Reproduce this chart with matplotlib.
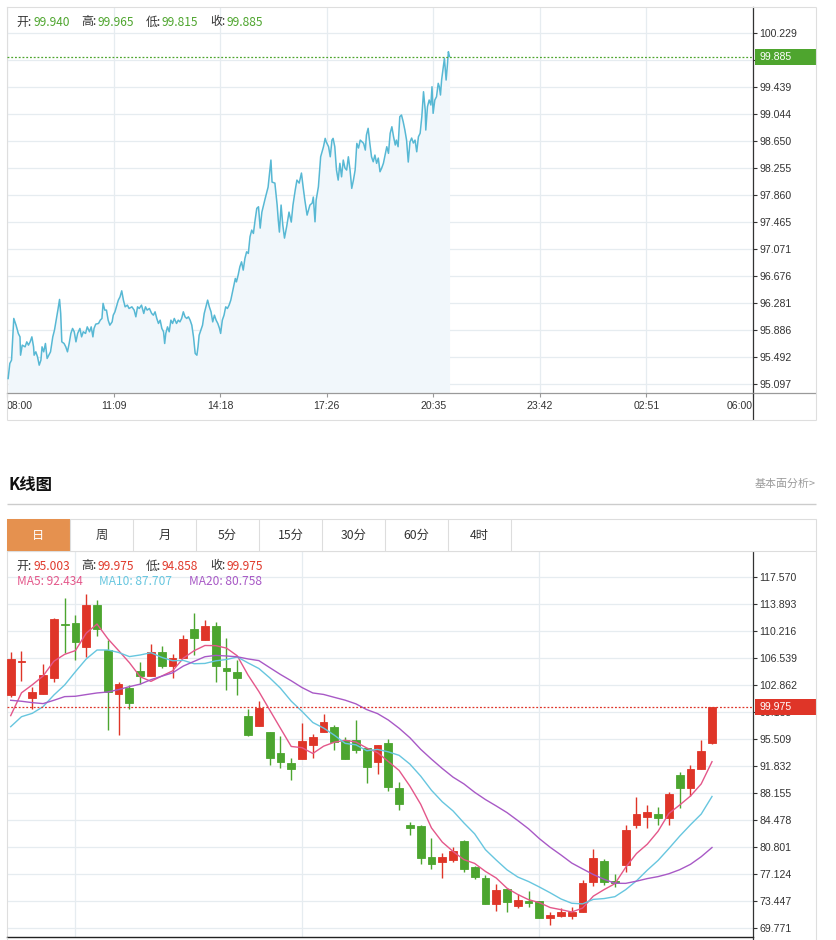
import numpy as np
import pandas as pd
import matplotlib
matplotlib.use('Agg')
import matplotlib.pyplot as plt
from matplotlib.patches import Rectangle
import matplotlib.transforms as mtransforms

plt.rcParams['font.family'] = ['Noto Sans CJK SC', 'DejaVu Sans']

# ---------------- intraday data (minutes after 08:00, price) ----------------
intraday_min = [
    2, 5, 8, 12, 16, 20, 23, 24, 27, 32,
    35, 38, 41, 44, 47, 48, 51, 54, 57, 60,
    62, 65, 68, 71, 74, 77, 81, 84, 87, 90,
    93, 95, 97, 101, 104, 107, 110, 113, 116, 119,
    122, 125, 129, 132, 135, 139, 142, 146, 149, 152,
    154, 157, 162, 165, 168, 170, 173, 176, 179, 182,
    186, 188, 191, 194, 197, 200, 203, 206, 209, 213,
    216, 221, 225, 228, 231, 234, 238, 242, 245, 248,
    252, 256, 259, 262, 265, 268, 271, 274, 277, 279,
    281, 284, 287, 290, 293, 296, 300, 303, 306, 309,
    312, 315, 318, 321, 324, 327, 330, 333, 336, 338,
    340, 343, 346, 349, 352, 355, 358, 361, 364, 367,
    370, 373, 376, 378, 381, 384, 387, 390, 393, 396,
    399, 402, 404, 406, 409, 412, 415, 418, 421, 424,
    427, 430, 433, 436, 439, 442, 445, 448, 451, 457,
    462, 467, 469, 474, 478, 480, 482, 485, 488, 491,
    495, 499, 503, 506, 510, 513, 517, 521, 524, 527,
    531, 536, 540, 542, 545, 547, 551, 555, 560, 563,
    565, 569, 572, 575, 577, 580, 583, 586, 589, 592,
    595, 598, 601, 604, 607, 610, 613, 616, 619, 622,
    625, 631, 634, 636, 639, 642, 645, 648, 651, 654,
    657, 660, 663, 666, 669, 672, 675, 678, 681, 684,
    687, 689, 692, 695, 698, 701, 704, 707, 710, 713,
    716, 719, 722, 725, 728, 731, 734, 737, 740, 741,
    744, 747, 750, 752, 754, 757, 760, 763, 765, 767,
    769, 772, 774, 776, 777, 779, 781, 783]
intraday_price = [
    95.177, 95.397, 95.445, 96.055, 95.957, 95.836, 95.786, 95.518, 95.665, 95.640,
    95.713, 95.665, 95.713, 95.786, 95.640, 95.518, 95.567, 95.494, 95.372, 95.445,
    95.640, 95.567, 95.689, 95.470, 95.518, 95.567, 95.786, 95.884, 96.030, 96.177,
    96.333, 96.128, 95.713, 95.689, 95.640, 95.567, 95.689, 95.836, 95.909, 95.860,
    95.713, 95.836, 95.909, 95.786, 95.860, 95.836, 95.932, 95.860, 95.932, 95.786,
    95.909, 95.972, 95.982, 96.030, 96.055, 96.275, 96.177, 96.177, 96.030, 95.957,
    96.005, 96.103, 96.152, 96.235, 96.323, 96.371, 96.459, 96.323, 96.225, 96.250,
    96.201, 96.225, 96.177, 96.079, 96.225, 96.201, 96.250, 96.128, 96.225, 96.177,
    96.201, 96.128, 96.103, 96.152, 96.055, 95.982, 96.030, 95.909, 95.860, 95.689,
    95.836, 95.932, 95.860, 96.030, 95.982, 96.055, 95.982, 96.030, 96.005, 96.055,
    96.152, 96.079, 96.055, 96.079, 96.030, 95.957, 95.786, 95.543, 95.518, 95.640,
    95.811, 95.884, 95.957, 96.128, 96.225, 96.323, 96.225, 96.152, 96.005, 96.103,
    96.030, 95.982, 95.909, 95.836, 96.030, 96.103, 96.225, 96.201, 96.250, 96.323,
    96.444, 96.567, 96.640, 96.590, 96.689, 96.810, 96.883, 96.762, 96.933, 97.030,
    97.006, 97.249, 97.347, 97.298, 97.493, 97.665, 97.688, 97.376, 97.610, 97.815,
    97.976, 98.371, 98.049, 98.034, 97.713, 97.493, 97.318, 97.713, 97.420, 97.230,
    97.405, 97.610, 97.464, 97.713, 97.932, 98.078, 98.034, 98.181, 97.976, 97.786,
    97.566, 97.713, 97.742, 97.830, 97.468, 97.786, 97.980, 98.419, 98.566, 98.688,
    98.634, 98.566, 98.419, 98.663, 98.688, 98.566, 98.225, 98.078, 98.323, 98.126,
    98.371, 98.254, 98.225, 98.419, 98.225, 97.957, 98.078, 98.225, 98.615, 98.547,
    98.663, 98.615, 98.517, 98.737, 98.835, 98.615, 98.419, 98.346, 98.444, 98.323,
    98.400, 98.200, 98.254, 98.323, 98.444, 98.566, 98.469, 98.762, 98.858, 98.712,
    98.591, 98.663, 98.566, 99.005, 99.030, 98.932, 98.810, 98.663, 98.342, 98.634,
    98.693, 98.620, 98.663, 98.492, 98.712, 98.762, 99.005, 99.370, 99.102, 98.810,
    99.151, 99.249, 99.176, 99.443, 99.054, 99.249, 99.297, 99.493, 99.443, 99.322,
    99.541, 99.736, 99.859, 99.639, 99.541, 99.736, 99.955, 99.885]

intraday_xtick_labels = ['08:00', '11:09', '14:18', '17:26', '20:35', '23:42', '02:51', '06:00']
intraday_ytick_values = [95.097, 95.492, 95.886, 96.281, 96.676, 97.071, 97.465,
                         97.860, 98.255, 98.650, 99.044, 99.439, 99.834, 100.229]
# the 99.834 label is hidden behind the last-price tag in the reference
intraday_ytick_labels = ['95.097', '95.492', '95.886', '96.281', '96.676', '97.071', '97.465',
                         '97.860', '98.255', '98.650', '99.044', '99.439', '', '100.229']
intraday_last = 99.885
intraday_header_labels = ['开:', '高:', '低:', '收:']
intraday_header_values = ['99.940', '99.965', '99.815', '99.885']

# ---------------- daily K-line data ----------------
prior_closes = [108.75, 105.75, 106.87, 102.90, 101.12, 107.72, 109.20, 106.09, 99.31, 96.44,
                92.55, 97.35, 95.17, 96.10, 97.42, 90.62, 96.50, 98.29, 101.81]
opens = [101.54, 106.10, 101.18, 101.73, 103.81, 111.17, 111.40, 108.04, 113.80, 107.67,
         101.68, 102.50, 104.81, 104.18, 107.36, 105.54, 106.54, 110.49, 108.99, 110.90,
         105.22, 104.63, 98.64, 97.28, 96.46, 93.65, 92.23, 92.83, 94.78, 96.55,
         97.23, 95.42, 95.37, 94.28, 92.42, 95.01, 88.92, 83.79, 83.66, 79.44,
         78.85, 79.12, 81.62, 78.17, 76.57, 73.12, 75.08, 72.81, 73.53, 73.44,
         71.13, 71.49, 71.49, 72.04, 76.12, 78.94, 76.26, 78.39, 83.84, 84.97,
         85.29, 84.84, 90.65, 88.92, 91.42, 95.003]
closes = [106.45, 106.15, 101.95, 104.27, 111.90, 111.12, 108.72, 113.80, 110.49, 101.91,
          103.04, 100.50, 104.18, 107.36, 105.54, 106.54, 109.17, 109.26, 110.90, 105.45,
          104.86, 103.91, 96.14, 99.73, 92.92, 92.37, 91.51, 95.32, 95.78, 97.87,
          95.10, 92.83, 94.10, 91.74, 94.69, 89.06, 86.74, 83.43, 79.39, 78.57,
          79.44, 80.34, 77.89, 76.80, 73.12, 74.94, 73.40, 73.62, 73.26, 71.13,
          71.58, 71.95, 72.04, 75.89, 79.30, 76.03, 75.98, 83.16, 85.29, 85.65,
          84.84, 88.11, 88.88, 91.42, 93.92, 99.975]
highs = [107.45, 107.54, 102.63, 105.81, 111.99, 114.71, 112.44, 115.26, 114.48, 109.04,
         103.36, 102.91, 105.99, 108.45, 108.26, 107.13, 109.72, 112.67, 111.76, 111.44,
         109.26, 106.31, 99.64, 100.73, 96.46, 95.96, 93.01, 97.78, 96.28, 98.96,
         97.46, 95.87, 98.14, 94.28, 94.69, 95.51, 89.74, 84.20, 83.84, 82.12,
         80.03, 80.80, 81.75, 78.25, 77.03, 75.85, 75.21, 74.40, 74.85, 73.44,
         71.95, 72.49, 72.63, 76.35, 80.57, 79.21, 77.12, 83.84, 87.61, 86.56,
         86.24, 88.29, 91.01, 92.01, 95.46, 99.975]
lows = [101.32, 103.49, 99.64, 101.73, 103.36, 107.22, 106.36, 106.77, 109.63, 96.78,
        96.10, 99.64, 103.04, 104.18, 105.27, 103.91, 106.54, 106.99, 108.99, 103.36,
        102.18, 101.54, 96.00, 97.28, 92.01, 91.65, 90.01, 92.83, 92.92, 96.55,
        94.05, 92.83, 93.69, 89.60, 90.83, 88.52, 85.84, 82.48, 78.48, 77.80,
        76.62, 78.85, 77.39, 76.49, 73.12, 72.12, 72.03, 72.58, 72.72, 71.13,
        70.22, 71.36, 71.04, 72.04, 75.58, 75.67, 75.35, 77.39, 83.48, 83.38,
        83.84, 83.84, 86.20, 87.83, 91.42, 94.858]
month_start_idx = [6, 27, 49]
kline_ytick_labels = ['69.771', '73.447', '77.124', '80.801', '84.478', '88.155', '91.832',
                      '95.509', '99.185', '102.862', '106.539', '110.216', '113.893', '117.570']
kline_header_values = ['95.003', '99.975', '94.858', '99.975']
ma_periods = [5, 10, 20]
ma_header_values = ['92.434', '87.707', '80.758']
tab_labels = ['日', '周', '月', '5分', '15分', '30分', '60分', '4时']

# ---------------- colours ----------------
UP = '#df3528'
DOWN = '#4ca52f'
MA_COLORS = ['#e4578a', '#67c6df', '#a859c6']
GRID = '#e6ecf0'
FRAME = '#dedede'
TICKFONT = 'Liberation Sans'

W, H = 836, 940
fig = plt.figure(figsize=(W / 100, H / 100), dpi=100)


def px_axes(x0, y0, x1, y1, **kw):
    return fig.add_axes([x0 / W, 1 - y1 / H, (x1 - x0) / W, (y1 - y0) / H], **kw)


def price_tag(ax, value, color, text):
    y0, y1 = ax.get_ylim()
    dv = 8 * (y1 - y0) / 386.0
    trans = mtransforms.blended_transform_factory(ax.transAxes, ax.transData)
    ax.add_patch(Rectangle((1 + 2 / 746, value - dv), 61 / 746, 2 * dv, transform=trans,
                           facecolor=color, edgecolor='none', clip_on=False, zorder=6))
    ax.text(1 + 7 / 746, value, text, transform=trans, color='white', va='center', ha='left',
            fontsize=7.6, fontfamily=TICKFONT, clip_on=False, zorder=7)


def style_ticks(ax):
    for lbl in ax.get_xticklabels() + ax.get_yticklabels():
        lbl.set_fontfamily(TICKFONT)


# ---------------- intraday chart ----------------
ax1 = px_axes(7, 7, 753, 393)
ax1.set_xlim(0, 1320)
ax1.set_ylim(94.965, 100.609)
ax1.set_axisbelow(True)
ax1.set_yticks(intraday_ytick_values)
ax1.set_yticklabels(intraday_ytick_labels)
ax1.set_xticks(np.linspace(0, 1320, len(intraday_xtick_labels)))
ax1.set_xticklabels(intraday_xtick_labels)
xl = ax1.get_xticklabels()
xl[0].set_ha('left')
xl[-1].set_ha('right')
ax1.yaxis.tick_right()
ax1.tick_params(axis='y', length=3, width=0.8, color='#333333', pad=1.5,
                labelsize=7.6, labelcolor='#333333')
ax1.tick_params(axis='x', length=3, width=0.8, color='#999999', pad=3,
                labelsize=7.6, labelcolor='#333333')
ax1.grid(True, color=GRID, lw=0.9)
style_ticks(ax1)
for s in ['left', 'top']:
    ax1.spines[s].set_color(FRAME)
    ax1.spines[s].set_linewidth(0.8)
ax1.spines['right'].set_color('#333333')
ax1.spines['right'].set_linewidth(0.9)
ax1.spines['bottom'].set_color('#9a9a9a')
ax1.spines['bottom'].set_linewidth(0.9)

ax1.fill_between(intraday_min, intraday_price, 94.965, color='#f1f7fb', lw=0, zorder=1)
ax1.plot(intraday_min, intraday_price, color='#57b8d4', lw=1.1, zorder=3)
ax1.axhline(intraday_last, color='#4ea52e', lw=0.9, ls=(0, (1.5, 1.5)), zorder=4)
price_tag(ax1, intraday_last, '#4ea52e', f'{intraday_last:.3f}')

# ---------------- K-line chart ----------------
idx = np.arange(len(closes))
o = np.array(opens)
c = np.array(closes)
hi = np.array(highs)
lo = np.array(lows)
cols = [UP if cc >= oo else DOWN for oo, cc in zip(o, c)]

all_close = pd.Series(prior_closes + closes)
ma_values = [all_close.rolling(n).mean().to_numpy()[len(prior_closes):] for n in ma_periods]

ax2 = px_axes(7, 551, 753, 937)
ax2.set_xlim(-0.343, 68.8)
ax2.set_ylim(68.586, 121.152)
ax2.set_axisbelow(True)
ax2.set_yticks([float(v) for v in kline_ytick_labels])
ax2.set_yticklabels(kline_ytick_labels)
ax2.yaxis.tick_right()
ax2.tick_params(axis='y', length=3, width=0.8, color='#333333', pad=1.5,
                labelsize=7.6, labelcolor='#333333')
ax2.set_xticks([])
ax2.grid(True, axis='y', color=GRID, lw=0.9)
for m in month_start_idx:
    ax2.axvline(m, color=GRID, lw=0.9, zorder=0)
style_ticks(ax2)
for s in ['left', 'top']:
    ax2.spines[s].set_color(FRAME)
    ax2.spines[s].set_linewidth(0.8)
ax2.spines['right'].set_color('#333333')
ax2.spines['right'].set_linewidth(0.9)
ax2.spines['bottom'].set_color('#222222')
ax2.spines['bottom'].set_linewidth(1.0)

ax2.vlines(idx, lo, hi, colors=cols, lw=1.0, zorder=2)
ax2.bar(idx, np.abs(c - o), bottom=np.minimum(o, c), width=0.72, color=cols,
        edgecolor=cols, lw=0.6, zorder=3)
for vals, col in zip(ma_values, MA_COLORS):
    ax2.plot(idx, vals, color=col, lw=1.0, zorder=4)
ax2.axhline(closes[-1], color=UP, lw=0.9, ls=(0, (1.5, 1.5)), zorder=4)
price_tag(ax2, closes[-1], UP, f'{closes[-1]:.3f}')

# ---------------- page decorations (pixel overlay) ----------------
ov = fig.add_axes([0, 0, 1, 1], zorder=10)
ov.set_xlim(0, W)
ov.set_ylim(H, 0)
ov.axis('off')


def seg(x0, y0, x1, y1, color, lw=0.8):
    ov.plot([x0, x1], [y0, y1], color=color, lw=lw, solid_capstyle='butt')


# intraday frame
seg(753, 393, 753, 420, '#333333', 0.9)
seg(753, 393, 816, 393, '#9a9a9a', 0.9)
seg(753, 7, 816, 7, FRAME)
seg(816, 7, 816, 420, FRAME)
seg(7, 420, 816, 420, FRAME)
seg(7, 393, 7, 420, FRAME)

# intraday header
hx = [16.7, 81, 145.3, 210]
for x, lab, val in zip(hx, intraday_header_labels, intraday_header_values):
    ov.text(x, 22, lab, color='#333333', fontsize=8.6, va='center', ha='left')
    ov.text(x + 16.3, 22, val, color='#4ea52e', fontsize=8.6, va='center', ha='left')

# section title
ov.text(8, 485, 'K线图', fontsize=11.8, fontweight='bold', color='#111111', va='center', ha='left')
ov.text(816, 484, '基本面分析>', fontsize=7.9, color='#9a9a9a', va='center', ha='right')
seg(7, 504, 816, 504, '#cccccc', 1.0)

# tabs
ov.add_patch(Rectangle((7, 519), 809, 32, facecolor='white', edgecolor='#dddddd', lw=0.8))
ov.add_patch(Rectangle((7, 519), 63, 32, facecolor='#e5914f', edgecolor='none'))
for k, lab in enumerate(tab_labels):
    x0 = 7 + 63 * k
    ov.text(x0 + 31.5, 535, lab, fontsize=8.8, va='center', ha='center',
            color='white' if k == 0 else '#333333')
    seg(x0 + 63, 519, x0 + 63, 551, '#dddddd')

# K-line frame
seg(816, 551, 816, 940, FRAME)
seg(753, 937, 753, 940, '#333333', 0.9)
seg(7, 937, 7, 940, FRAME)

# K-line header
for x, lab, val in zip(hx, intraday_header_labels, kline_header_values):
    ov.text(x, 566, lab, color='#333333', fontsize=8.6, va='center', ha='left')
    ov.text(x + 16.3, 566, val, color='#e0392b', fontsize=8.6, va='center', ha='left')
for x, n, val, col in zip([16.7, 99.3, 188.7], ma_periods, ma_header_values, MA_COLORS):
    ov.text(x, 581.5, f'MA{n}: {val}', color=col, fontsize=8.6, va='center', ha='left')

fig.savefig('out.png', dpi=100)
